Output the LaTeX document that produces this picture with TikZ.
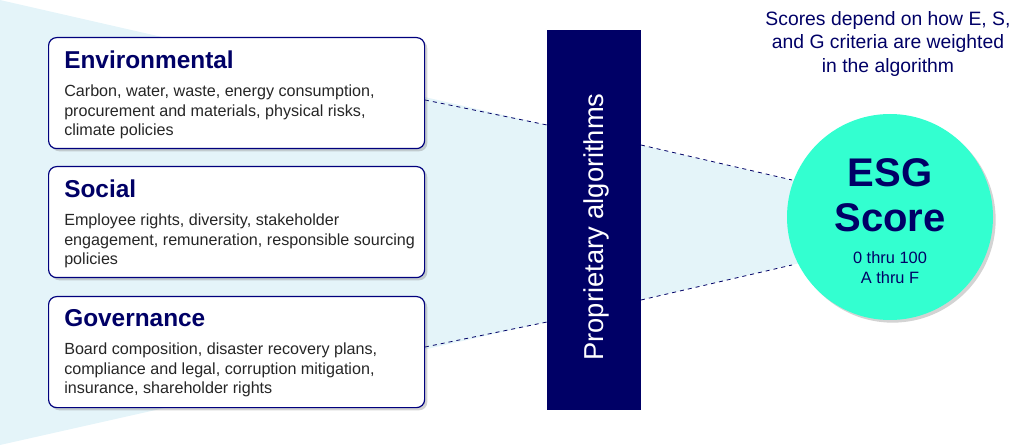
\documentclass[tikz,border=0pt]{standalone}
\usepackage{fontspec}
\setmainfont{Liberation Sans}
\usetikzlibrary{shadows}
\definecolor{navy}{HTML}{000066}
\definecolor{lblue}{HTML}{E4F4F9}
\definecolor{teal}{HTML}{33FFD0}
\begin{document}
\begin{tikzpicture}[x=0.75pt,y=-0.75pt,
  box/.style={draw=navy!85!blue,line width=0.9pt,rounded corners=6pt,fill=white,minimum width=376*0.75pt,minimum height=111*0.75pt,anchor=north west,drop shadow={shadow xshift=2pt,shadow yshift=-2pt,opacity=0.35},inner sep=0pt},
  ttl/.style={anchor=north west,font=\fontsize{18.3}{20}\selectfont\bfseries,text=navy,inner sep=0pt},
  bdy/.style={anchor=north west,font=\fontsize{12.1}{14.3}\selectfont,text=black!85,align=left,inner sep=0pt},
  conn/.style={draw=navy,dashed,line width=0.6pt}]
\useasboundingbox (0,0) rectangle (1032,445);
\fill[lblue] (0,0) -- (547,125) -- (547,322) -- (0,445) -- cycle;
\fill[lblue] (641,145) -- (800,182) -- (800,263) -- (641,300) -- cycle;
\coordinate (e1) at (425,100); \coordinate (b1) at (547,125);
\coordinate (g1) at (425,347); \coordinate (b2) at (547,322);
\coordinate (b3) at (641,145); \coordinate (c1) at (792,180);
\coordinate (b4) at (641,300); \coordinate (c2) at (792,265);
\draw[conn] (e1) -- (b1); \draw[conn] (g1) -- (b2);
\draw[conn] (b3) -- (c1); \draw[conn] (b4) -- (c2);
\node[box] (env) at (48,37) {};
\node[ttl] (envt) at (64,51) {Environmental};
\node[bdy] (envb) at (64,85) {Carbon, water, waste, energy consumption,\\procurement and materials, physical risks,\\climate policies};
\node[box] (soc) at (48,166) {};
\node[ttl] (soct) at (64,180) {Social};
\node[bdy] (socb) at (64,214) {Employee rights, diversity, stakeholder\\engagement, remuneration, responsible sourcing\\policies};
\node[box] (gov) at (48,296) {};
\node[ttl] (govt) at (64,309) {Governance};
\node[bdy] (govb) at (64,343) {Board composition, disaster recovery plans,\\compliance and legal, corruption mitigation,\\insurance, shareholder rights};
\node[fill=navy,minimum width=94*0.75pt,minimum height=380*0.75pt,inner sep=0pt] (bar) at (594,220) {};
\node[rotate=90,text=white,font=\fontsize{20.5}{22}\selectfont] (bart) at (596,227) {Proprietary algorithms};
\node[circle,fill=teal,minimum size=206*0.75pt,inner sep=0pt,drop shadow={shadow xshift=2pt,shadow yshift=-2pt,opacity=0.35}] (esg) at (890,217) {};
\node[text=navy,font=\fontsize{30}{34}\selectfont\bfseries,align=center] (esgt) at (890,195) {ESG\\Score};
\node[text=navy,font=\fontsize{12.3}{15}\selectfont,align=center] (esgs) at (890,268) {0 thru 100\\A thru F};
\node[text=navy,font=\fontsize{14.5}{17.3}\selectfont,align=center] (note) at (888,44) {Scores depend on how E, S,\\and G criteria are weighted\\in the algorithm};
\end{tikzpicture}
\end{document}
